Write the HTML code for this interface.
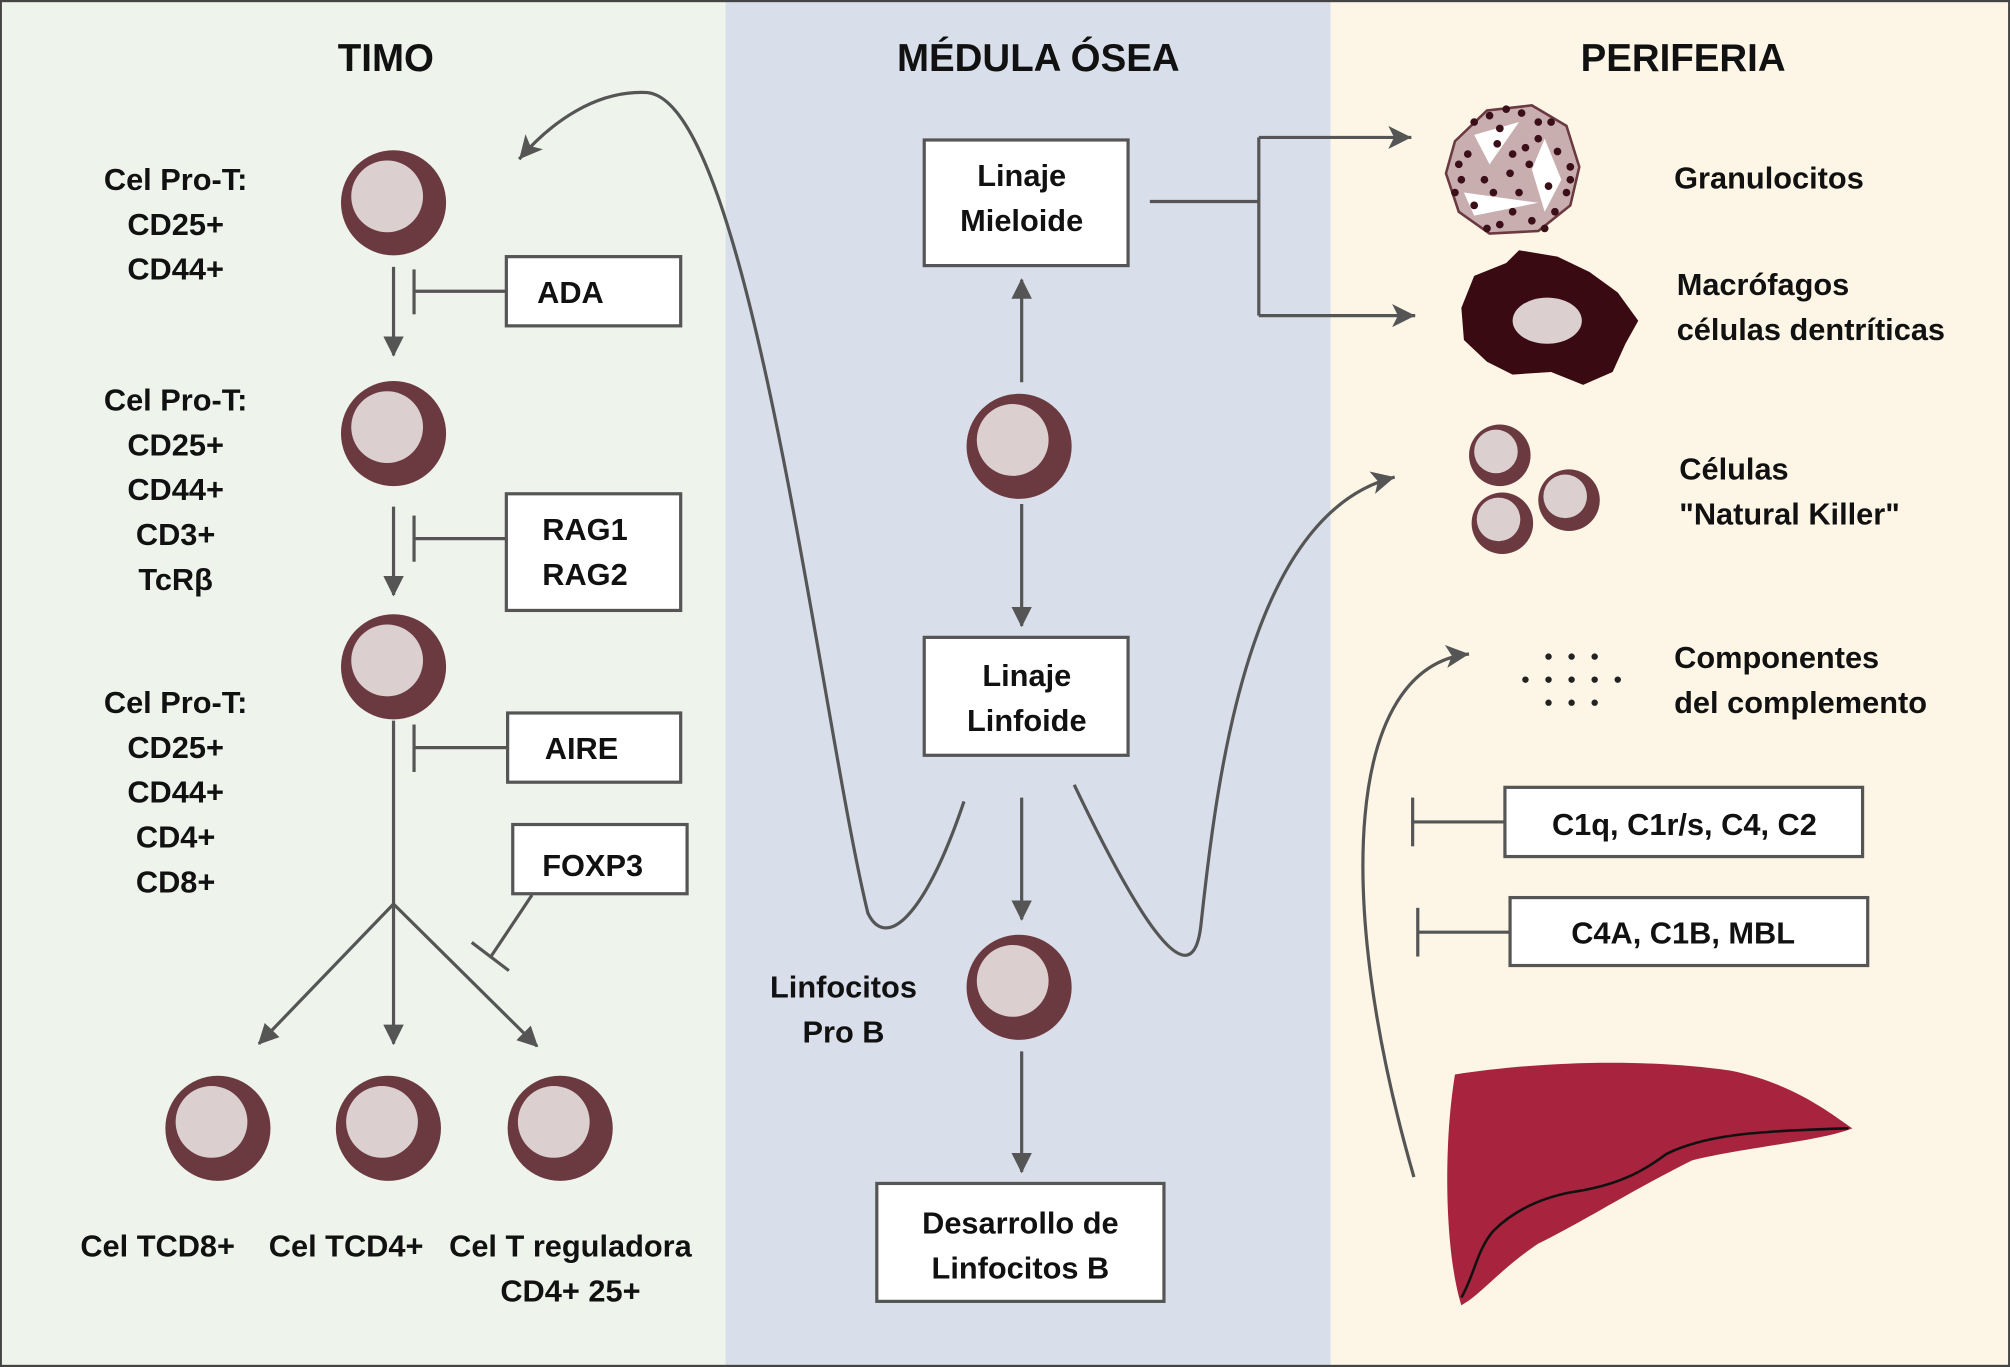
<!DOCTYPE html>
<html><head><meta charset="utf-8"><style>
html,body{margin:0;padding:0;background:#fff}
svg{display:block}
text{font-family:"Liberation Sans Narrow","Liberation Sans",sans-serif;font-weight:bold;font-size:24px;fill:#111}
.t{font-size:30px}
.b{fill:#fff;stroke:#555;stroke-width:2.5}
.l{stroke:#555;stroke-width:2.5;fill:none}
</style></head><body>
<svg width="2010" height="1367" viewBox="0 0 1568 1066" xmlns="http://www.w3.org/2000/svg">
<defs>
<marker id="a" markerWidth="16" markerHeight="16" refX="13" refY="7" orient="auto" markerUnits="userSpaceOnUse" viewBox="0 0 14 14"><path d="M0,0 L14,7 L0,14z" fill="#555"/></marker>
<marker id="A" markerWidth="18" markerHeight="18" refX="16" refY="8" orient="auto" markerUnits="userSpaceOnUse" viewBox="0 0 16 16"><path d="M0,0 L16,8 L0,16 L4,8z" fill="#555"/></marker>
<g id="c"><circle r="41" fill="#6b3a40"/><circle cx="-5" cy="-5" r="28" fill="#dccfd0"/></g>
</defs>
<rect x="0" y="0" width="566" height="1066" fill="#eef4ec"/>
<rect x="566" y="0" width="472" height="1066" fill="#d9dfea"/>
<rect x="1038" y="0" width="530" height="1066" fill="#fdf6e6"/>
<rect x="0.5" y="0.5" width="1567" height="1065" fill="none" stroke="#444" stroke-width="2"/>

<text class="t" x="301" y="55" text-anchor="middle">TIMO</text>
<text class="t" x="810" y="55" text-anchor="middle">MÉDULA ÓSEA</text>
<text class="t" x="1313" y="55" text-anchor="middle">PERIFERIA</text>

<use href="#c" x="307" y="158"/><use href="#c" x="307" y="338"/><use href="#c" x="307" y="520"/>
<g text-anchor="middle">
<text x="137" y="148">Cel Pro-T:</text><text x="137" y="183">CD25+</text><text x="137" y="218">CD44+</text>
<text x="137" y="320">Cel Pro-T:</text><text x="137" y="355">CD25+</text><text x="137" y="390">CD44+</text><text x="137" y="425">CD3+</text><text x="137" y="460">TcRβ</text>
<text x="137" y="556">Cel Pro-T:</text><text x="137" y="591">CD25+</text><text x="137" y="626">CD44+</text><text x="137" y="661">CD4+</text><text x="137" y="696">CD8+</text>
</g>
<line class="l" x1="307" y1="208" x2="307" y2="277" marker-end="url(#a)"/>
<line class="l" x1="323" y1="210" x2="323" y2="245"/><line class="l" x1="323" y1="227" x2="395" y2="227"/>
<rect class="b" x="395" y="200" width="136" height="54"/><text x="419" y="236">ADA</text>
<line class="l" x1="307" y1="395" x2="307" y2="464" marker-end="url(#a)"/>
<line class="l" x1="323" y1="402" x2="323" y2="438"/><line class="l" x1="323" y1="420" x2="395" y2="420"/>
<rect class="b" x="395" y="385" width="136" height="91"/><text x="423" y="421">RAG1</text><text x="423" y="456">RAG2</text>
<line class="l" x1="307" y1="562" x2="307" y2="705"/>
<line class="l" x1="323" y1="565" x2="323" y2="602"/><line class="l" x1="323" y1="583" x2="396" y2="583"/>
<rect class="b" x="396" y="556" width="135" height="54"/><text x="425" y="592">AIRE</text>
<rect class="b" x="400" y="643" width="136" height="54"/><text x="423" y="683">FOXP3</text>
<line class="l" x1="415" y1="698" x2="383" y2="746"/><line class="l" x1="368" y1="735" x2="397" y2="757"/>
<line class="l" x1="307" y1="705" x2="202" y2="814" marker-end="url(#a)"/>
<line class="l" x1="307" y1="705" x2="307" y2="814" marker-end="url(#a)"/>
<line class="l" x1="307" y1="705" x2="419" y2="816" marker-end="url(#a)"/>
<use href="#c" x="170" y="880"/><use href="#c" x="303" y="880"/><use href="#c" x="437" y="880"/>
<text x="123" y="980" text-anchor="middle">Cel TCD8+</text>
<text x="270" y="980" text-anchor="middle">Cel TCD4+</text>
<text x="445" y="980" text-anchor="middle">Cel T reguladora</text>
<text x="445" y="1015" text-anchor="middle">CD4+ 25+</text>

<path class="l" d="M752,625 C720,720 690,740 677,712 C640,560 585,80 505,72 C465,70 430,95 405,124" marker-end="url(#A)"/>
<rect class="b" x="721" y="109" width="159" height="98"/>
<text x="797" y="145" text-anchor="middle">Linaje</text><text x="797" y="180" text-anchor="middle">Mieloide</text>
<line class="l" x1="797" y1="298" x2="797" y2="218" marker-end="url(#a)"/>
<use href="#c" x="795" y="348"/>
<line class="l" x1="797" y1="393" x2="797" y2="488" marker-end="url(#a)"/>
<rect class="b" x="721" y="497" width="159" height="92"/>
<text x="801" y="535" text-anchor="middle">Linaje</text><text x="801" y="570" text-anchor="middle">Linfoide</text>
<line class="l" x1="797" y1="622" x2="797" y2="717" marker-end="url(#a)"/>
<use href="#c" x="795" y="770"/>
<text x="658" y="778" text-anchor="middle">Linfocitos</text><text x="658" y="813" text-anchor="middle">Pro B</text>
<line class="l" x1="797" y1="820" x2="797" y2="914" marker-end="url(#a)"/>
<rect class="b" x="684" y="923" width="224" height="92"/>
<text x="796" y="962" text-anchor="middle">Desarrollo de</text><text x="796" y="997" text-anchor="middle">Linfocitos B</text>
<path class="l" d="M838,612 C880,700 930,790 937,720 C950,600 975,400 1088,372" marker-end="url(#A)"/>

<polyline class="l" points="897,157 982,157"/>
<line class="l" x1="982" y1="107" x2="982" y2="246"/>
<line class="l" x1="982" y1="107" x2="1101" y2="107" marker-end="url(#A)"/>
<line class="l" x1="982" y1="246" x2="1104" y2="246" marker-end="url(#A)"/>
<g>
<path d="M1135,110 L1160,86 L1195,82 L1222,98 L1232,130 L1225,160 L1200,180 L1162,182 L1138,165 L1128,135z" fill="#c9aeb0" stroke="#6b3a40" stroke-width="2"/>
<path d="M1150,105 L1185,95 L1162,128z M1142,150 L1200,158 L1150,168z M1205,108 L1218,140 L1205,165 L1195,132z" fill="#fff"/>
<g fill="#3a0f18">
<circle cx="1145" cy="120" r="3"/><circle cx="1158" cy="140" r="3"/><circle cx="1170" cy="100" r="3"/><circle cx="1190" cy="115" r="3"/><circle cx="1178" cy="135" r="3"/><circle cx="1200" cy="95" r="3"/><circle cx="1215" cy="118" r="3"/><circle cx="1222" cy="150" r="3"/><circle cx="1185" cy="150" r="3"/><circle cx="1170" cy="175" r="3"/><circle cx="1195" cy="172" r="3"/><circle cx="1140" cy="140" r="3"/><circle cx="1162" cy="90" r="3"/><circle cx="1208" cy="145" r="3"/><circle cx="1180" cy="120" r="3"/><circle cx="1150" cy="160" r="3"/><circle cx="1213" cy="165" r="3"/><circle cx="1187" cy="88" r="3"/>
<circle cx="1138" cy="128" r="3"/><circle cx="1150" cy="95" r="3"/><circle cx="1175" cy="85" r="3"/><circle cx="1210" cy="95" r="3"/><circle cx="1225" cy="130" r="3"/><circle cx="1225" cy="140" r="3"/><circle cx="1165" cy="150" r="3"/><circle cx="1180" cy="165" r="3"/><circle cx="1160" cy="178" r="3"/><circle cx="1205" cy="178" r="3"/><circle cx="1193" cy="128" r="3"/><circle cx="1168" cy="112" r="3"/><circle cx="1135" cy="150" r="3"/><circle cx="1200" cy="108" r="3"/>
</g>
<path d="M1150,215 L1175,205 L1185,195 L1215,200 L1240,212 L1262,228 L1278,250 L1268,268 L1258,290 L1235,300 L1210,290 L1180,292 L1160,282 L1142,265 L1140,240z" fill="#3a0a12"/>
<ellipse cx="1207" cy="250" rx="27" ry="18" fill="#dccfd0"/>
<circle cx="1170" cy="355" r="24" fill="#6b3a40"/><circle cx="1167" cy="352" r="17" fill="#dccfd0"/>
<circle cx="1172" cy="408" r="24" fill="#6b3a40"/><circle cx="1169" cy="405" r="17" fill="#dccfd0"/>
<circle cx="1224" cy="390" r="24" fill="#6b3a40"/><circle cx="1221" cy="387" r="17" fill="#dccfd0"/>
<g fill="#222">
<circle cx="1208" cy="512" r="2.5"/><circle cx="1226" cy="512" r="2.5"/><circle cx="1244" cy="512" r="2.5"/>
<circle cx="1190" cy="530" r="2.5"/><circle cx="1208" cy="530" r="2.5"/><circle cx="1226" cy="530" r="2.5"/><circle cx="1244" cy="530" r="2.5"/><circle cx="1262" cy="530" r="2.5"/>
<circle cx="1208" cy="548" r="2.5"/><circle cx="1226" cy="548" r="2.5"/><circle cx="1244" cy="548" r="2.5"/>
</g>
</g>
<text x="1306" y="147">Granulocitos</text>
<text x="1308" y="230">Macrófagos</text><text x="1308" y="265">células dentríticas</text>
<text x="1310" y="374">Células</text><text x="1310" y="409">"Natural Killer"</text>
<text x="1306" y="521">Componentes</text><text x="1306" y="556">del complemento</text>
<line class="l" x1="1102" y1="622" x2="1102" y2="660"/><line class="l" x1="1102" y1="641" x2="1174" y2="641"/>
<rect class="b" x="1174" y="614" width="279" height="54"/><text x="1314" y="651" text-anchor="middle">C1q, C1r/s, C4, C2</text>
<line class="l" x1="1106" y1="708" x2="1106" y2="746"/><line class="l" x1="1106" y1="727" x2="1178" y2="727"/>
<rect class="b" x="1178" y="700" width="279" height="53"/><text x="1313" y="736" text-anchor="middle">C4A, C1B, MBL</text>
<path d="M1135,838 C1200,828 1280,825 1350,835 C1400,845 1430,870 1445,880 C1420,890 1360,895 1320,905 C1270,930 1240,950 1200,970 C1170,990 1155,1010 1140,1018 C1128,980 1125,900 1135,838z" fill="#a8243e"/>
<path d="M1140,1012 C1150,995 1152,975 1165,960 C1180,945 1200,935 1225,930 C1260,925 1280,915 1300,900 C1330,885 1370,882 1442,880" fill="none" stroke="#111" stroke-width="2"/>
<path class="l" d="M1103,918 C1040,700 1050,520 1146,510" marker-end="url(#A)"/>
</svg>
</body></html>
